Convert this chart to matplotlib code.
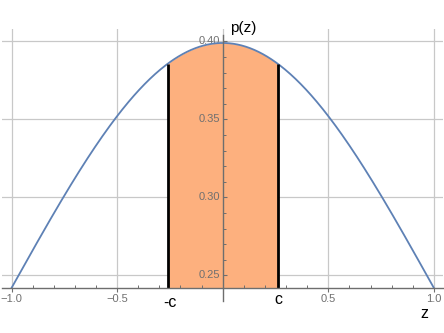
import numpy as np
import matplotlib
matplotlib.use("Agg")
import matplotlib.pyplot as plt
from matplotlib.ticker import MultipleLocator, FixedLocator

plt.rcParams['font.family'] = ['Liberation Sans', 'DejaVu Sans']

# data
c = 0.26
z = np.linspace(-1.0, 1.0, 401)
pz = np.exp(-z**2 / 2) / np.sqrt(2 * np.pi)
xticks = [-1.0, -0.5, 0.5, 1.0]
xtick_labels = ["\u22121.0", "\u22120.5", "0.5", "1.0"]
yticks = [0.25, 0.30, 0.35, 0.40]
ytick_labels = ["0.25", "0.30", "0.35", "0.40"]

ybase = float(np.exp(-0.5) / np.sqrt(2 * np.pi))

fig = plt.figure(figsize=(4.44, 3.33), dpi=100)
W, H = 444, 333
left_px, right_px, top_px, bot_px = 2, 443, 29.3, 288
ax = fig.add_axes([left_px / W, 1 - bot_px / H, (right_px - left_px) / W, (bot_px - top_px) / H])

grid_c = "#c8c8c8"
axis_c = "#6e6e6e"
for xv in [-1.0, -0.5, 0.0, 0.5, 1.0]:
    ax.axvline(xv, color=grid_c, lw=0.9, zorder=0)
for yv in yticks:
    ax.axhline(yv, color=grid_c, lw=0.9, zorder=0)

mask = (z >= -c) & (z <= c)
ax.fill_between(z[mask], ybase, pz[mask], color="#fdb07e", lw=0, zorder=1)
ax.plot(z, pz, color="#5e81b5", lw=1.3, zorder=3)
pc = np.exp(-c**2 / 2) / np.sqrt(2 * np.pi)
ax.vlines([-c, c], ybase, pc, color="black", lw=2.0, zorder=4)

ax.set_xlim(-1.045, 1.043)
ax.set_ylim(ybase, 0.4077)

for s in ["top", "right"]:
    ax.spines[s].set_visible(False)
ax.spines["left"].set_position(("data", 0))
ax.spines["bottom"].set_position(("data", ybase))
ax.spines["left"].set_bounds(0.2335, 0.404)
for s in ["left", "bottom"]:
    ax.spines[s].set_color(axis_c)
    ax.spines[s].set_linewidth(1.0)
    ax.spines[s].set_zorder(5)

ax.xaxis.set_major_locator(FixedLocator(xticks))
ax.set_xticklabels(xtick_labels)
ax.xaxis.set_minor_locator(MultipleLocator(0.1))
ax.yaxis.set_major_locator(FixedLocator(yticks))
ax.set_yticklabels(ytick_labels)
ax.yaxis.set_minor_locator(MultipleLocator(0.01))

ax.tick_params(axis="x", which="major", direction="out", length=3, width=0.8,
               color=axis_c, labelcolor="#707070", labelsize=8, pad=1.5)
ax.tick_params(axis="x", which="minor", direction="in", length=2.5, width=0.7, color=axis_c)
ax.tick_params(axis="y", which="major", direction="in", length=3, width=0.8,
               color=axis_c, labelcolor="#707070", labelsize=8, pad=2)
ax.tick_params(axis="y", which="minor", direction="in", length=2, width=0.7, color=axis_c)
for lab in ax.get_yticklabels():
    lab.set_verticalalignment("center")

ax.annotate("-c", xy=(-c, ybase), xytext=(1.3, -13.7), textcoords="offset points",
            ha="center", va="baseline", fontsize=11.5, color="black")
ax.annotate("c", xy=(c, ybase), xytext=(0.5, -11.3), textcoords="offset points",
            ha="center", va="baseline", fontsize=11.5, color="black")
ax.annotate("p(z)", xy=(0, 0.4077), xytext=(5, -2), textcoords="offset points",
            ha="left", va="baseline", fontsize=11, color="black", annotation_clip=False)
ax.annotate("z", xy=(1.0, ybase), xytext=(-7.2, -21.4), textcoords="offset points",
            ha="center", va="baseline", fontsize=11.5, color="black", annotation_clip=False)

fig.savefig("out.png", dpi=100)
